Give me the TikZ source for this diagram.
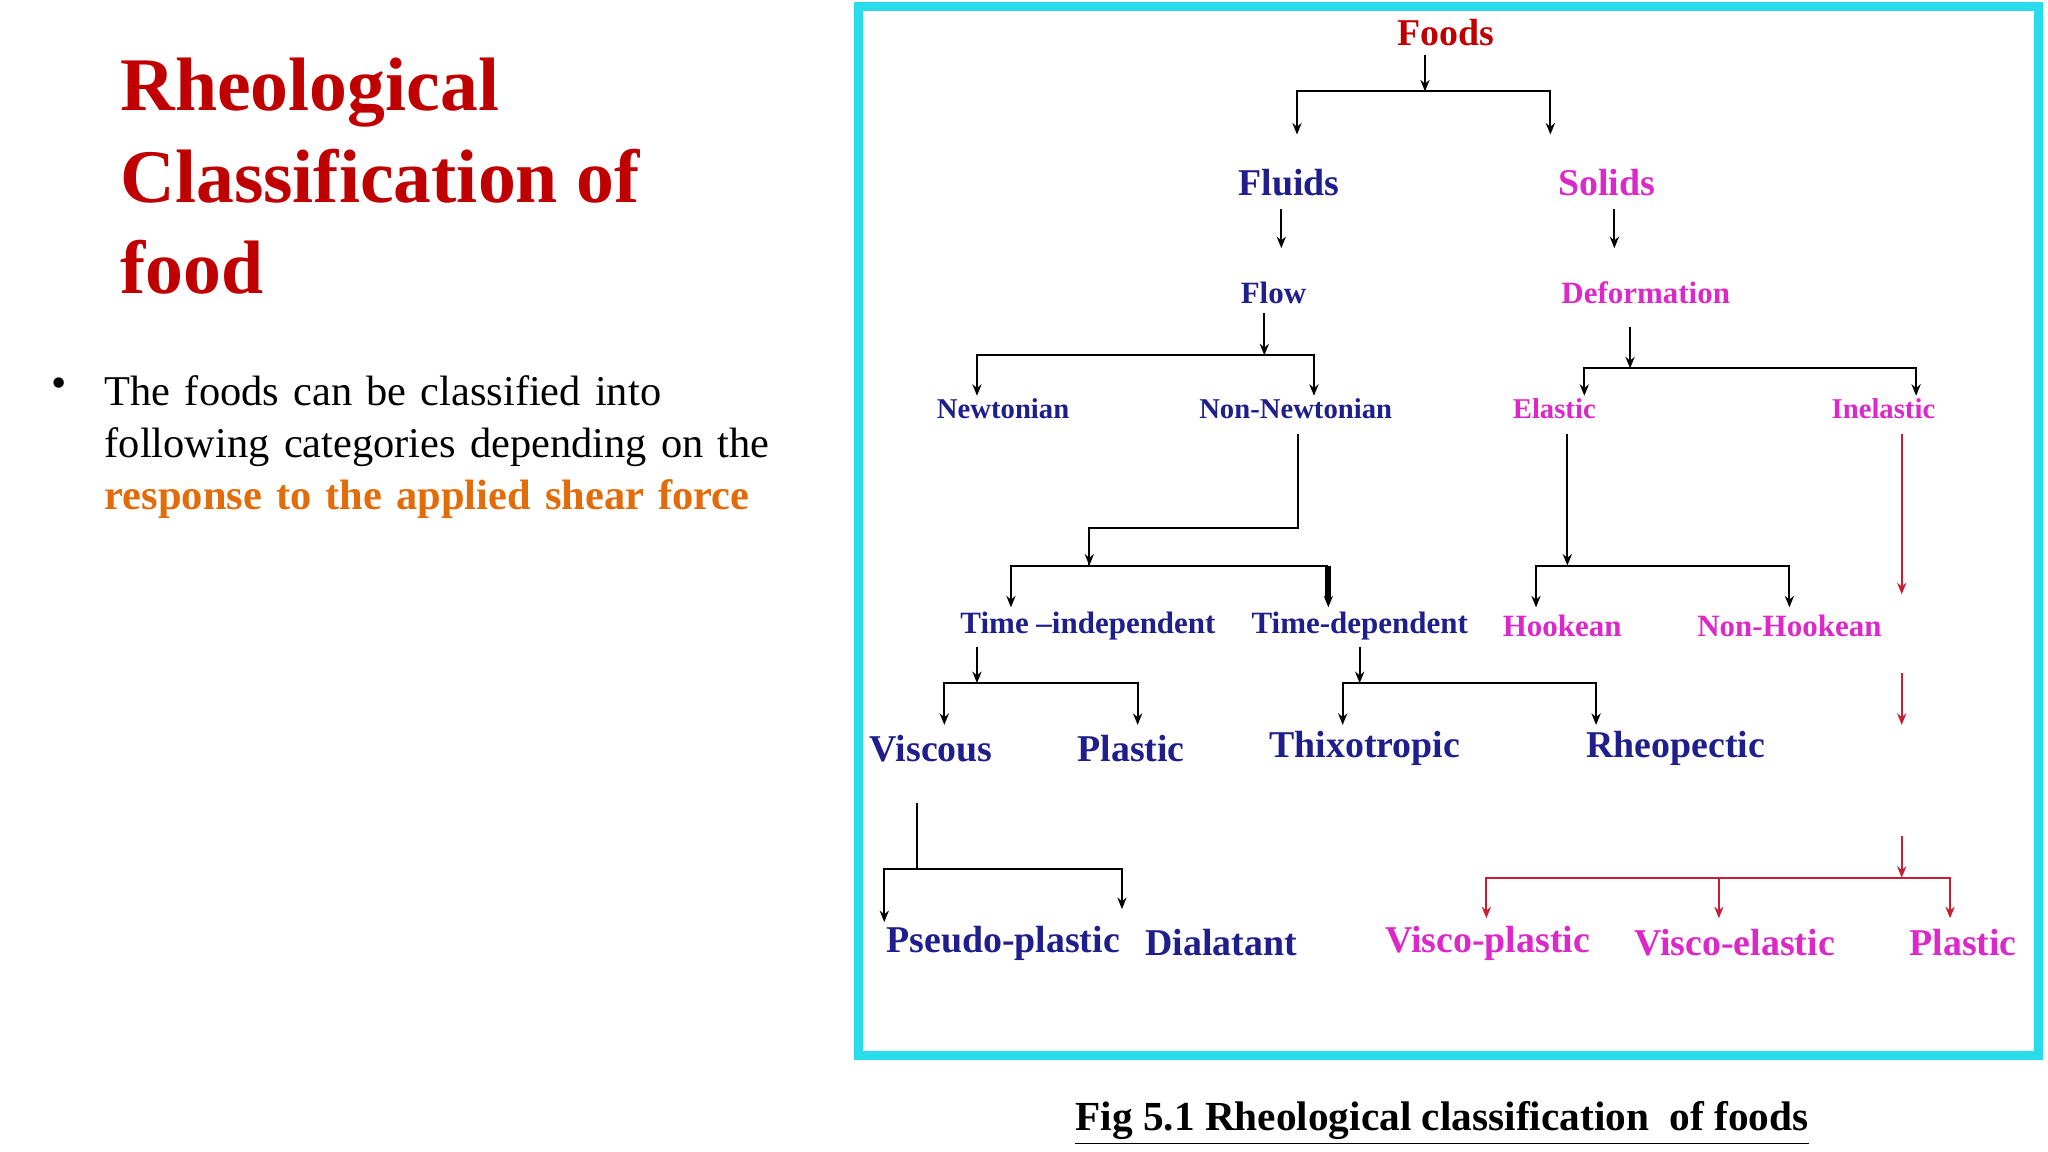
\documentclass[tikz,border=0pt]{standalone}
\usepackage{fontspec}
\setmainfont{Liberation Serif}
\usetikzlibrary{arrows.meta}
\definecolor{titlered}{RGB}{192,0,0}
\definecolor{shearorange}{RGB}{226,107,10}
\definecolor{fluidblue}{RGB}{30,30,140}
\definecolor{solidpink}{RGB}{220,40,200}
\definecolor{framecyan}{RGB}{40,220,235}
\definecolor{redline}{RGB}{200,30,50}
\tikzset{
  fluid/.style={text=fluidblue, font=\bfseries\fontsize{13.5}{15}\selectfont, inner sep=1pt},
  solid/.style={text=solidpink, font=\bfseries\fontsize{13.5}{15}\selectfont, inner sep=1pt},
  big/.style={font=\bfseries\fontsize{16.5}{18}\selectfont},
  small/.style={font=\bfseries\fontsize{12.5}{14}\selectfont},
  link/.style={-{Stealth[length=5pt,width=4pt]}, line width=0.9pt},
  plain/.style={line width=0.9pt},
  redlink/.style={link, draw=redline},
  redplain/.style={plain, draw=redline}
}
\begin{document}
\begin{tikzpicture}[x=0.02cm, y=-0.02cm]
    \useasboundingbox (0,0) rectangle (1568,882);
    % Title and bullet
    \node [anchor=north west, text=titlered, align=left, font=\bfseries\fontsize{33}{40}\selectfont] (title) at (86,38) {Rheological\\Classification of\\food};
    \node [anchor=west] (bullet) at (33,297) {\fontsize{19}{22}\selectfont\textbullet};
    \node [anchor=north west, align=left, text width=11.4cm, font=\fontsize{18.5}{22.7}\selectfont] (intro) at (74,281) {The foods can be classified into\\following categories depending on the\\\textcolor{shearorange}{\bfseries response to the applied shear force}};
    % Frame
    \draw [framecyan, line width=4pt] (657,5) rectangle (1561,808);
    \node [font=\bfseries\fontsize{18}{20}\selectfont] (caption) at (1104,860) {\underline{Fig 5.1 Rheological classification\ \ of foods}};
    % Nodes
    \node [big, text=titlered, inner sep=1pt] (foods) at (1107,25) {Foods};
    \node [fluid, big] (fluids) at (987,140) {Fluids};
    \node [solid, big] (solids) at (1230,140) {Solids};
    \node [fluid] (flow) at (975,224) {Flow};
    \node [solid] (deform) at (1260,224) {Deformation};
    \node [fluid, small] (newt) at (768,313) {Newtonian};
    \node [fluid, small] (nonnewt) at (992,313) {Non-Newtonian};
    \node [solid, small] (elastic) at (1190,313) {Elastic};
    \node [solid, small] (inelastic) at (1442,313) {Inelastic};
    \node [fluid] (tind) at (833,479) {Time --independent};
    \node [fluid] (tdep) at (1041,479) {Time-dependent};
    \node [solid] (hook) at (1196,479) {Hookean};
    \node [solid] (nonhook) at (1370,479) {Non-Hookean};
    \node [fluid, big] (viscous) at (713,573) {Viscous};
    \node [fluid, big] (plastic) at (866,573) {Plastic};
    \node [fluid, big] (thixo) at (1045,573) {Thixotropic};
    \node [fluid, big] (rheo) at (1283,573) {Rheopectic};
    \node [fluid, big] (pseudo) at (768,722) {Pseudo-plastic};
    \node [fluid, big] (dila) at (935,722) {Dialatant};
    \node [solid, big] (vplastic) at (1139,722) {Visco-plastic};
    \node [solid, big] (velastic) at (1328,722) {Visco-elastic};
    \node [solid, big] (splastic) at (1503,722) {Plastic};
    % Junctions
    \coordinate (j1) at (1091,70);
    \coordinate (j2) at (968,272);
    \coordinate (j3) at (1248,282);
    \coordinate (j4) at (834,433);
    \coordinate (j5) at (1200,433);
    \coordinate (j6) at (748,523);
    \coordinate (j7) at (1041,523);
    \coordinate (j8) at (702,665);
    \coordinate (j9) at (1456,672);
    % Connectors
    \draw [link] (1091,42) -- (j1);
    \draw [link] (j1) -| (993,103);
    \draw [link] (j1) -| (1187,103);
    \draw [link] (981,160) -- (981,190);
    \draw [link] (1236,160) -- (1236,190);
    \draw [link] (968,240) -- (j2);
    \draw [link] (j2) -| (748,303);
    \draw [link] (j2) -| (1006,303);
    \draw [link] (1248,250) -- (j3);
    \draw [link] (j3) -| (1213,303);
    \draw [link] (j3) -| (1467,303);
    \draw [plain] (994,332) -- (994,404) -| (j4);
    \draw [link] (834,404) -- (j4);
    \draw [link] (j4) -| (774,465);
    \draw [plain] (j4) -- (1017,433);
    \draw [link, line width=2.5pt] (1017,433) -- (1017,465);
    \draw [link] (1200,332) -- (j5);
    \draw [link] (j5) -| (1176,465);
    \draw [link] (j5) -| (1370,465);
    \draw [redlink] (1456,332) -- (1456,455);
    \draw [redlink] (1456,515) -- (1456,555);
    \draw [link] (748,495) -- (j6);
    \draw [link] (j6) -| (723,555);
    \draw [link] (j6) -| (871,555);
    \draw [link] (1041,495) -- (j7);
    \draw [link] (j7) -| (1028,555);
    \draw [link] (j7) -| (1222,555);
    \draw [plain] (702,615) -- (j8);
    \draw [link] (j8) -| (677,706);
    \draw [link] (j8) -| (859,696);
    \draw [redlink] (1456,640) -- (j9);
    \draw [redlink] (j9) -| (1138,703);
    \draw [redlink] (1316,672) -- (1316,703);
    \draw [redlink] (j9) -| (1493,703);
\end{tikzpicture}
\end{document}
